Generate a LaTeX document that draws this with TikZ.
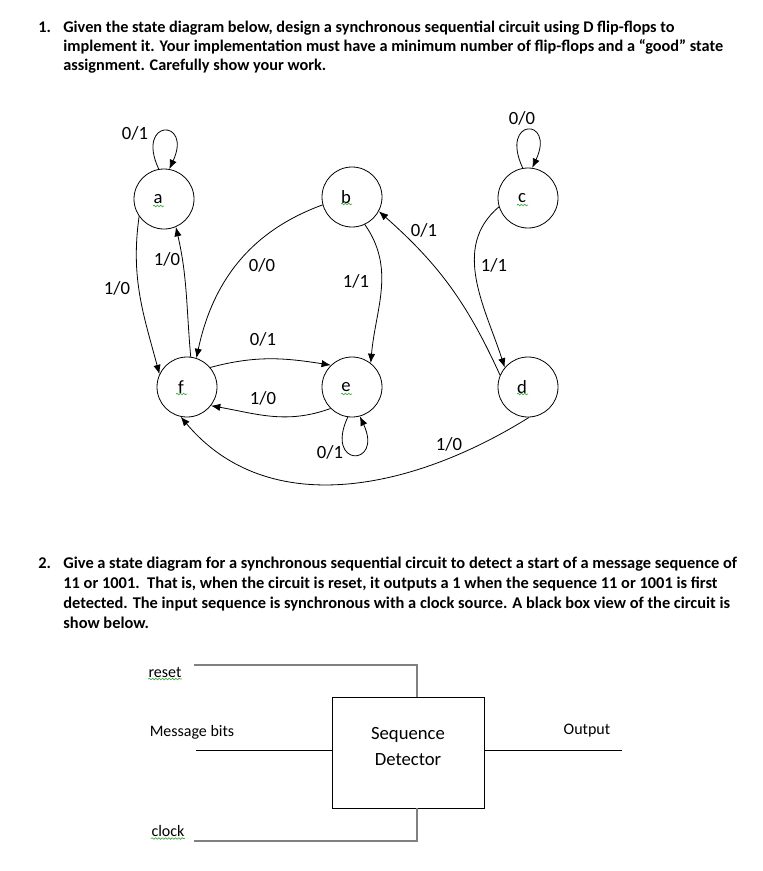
\documentclass[tikz,border=0pt]{standalone}
\usepackage{fontspec}
\setmainfont{Carlito}
\usetikzlibrary{positioning}
\usetikzlibrary{calc}
\usetikzlibrary{arrows.meta}
\usetikzlibrary{decorations.pathmorphing}
\definecolor{wiregray}{RGB}{128,128,128}
\definecolor{spellgreen}{RGB}{70,170,70}

\begin{document}
\begin{tikzpicture}[x=0.75pt,y=0.75pt,>={Latex[length=7pt,width=5.5pt]},line width=0.6pt]
	\tikzstyle{round} = [draw,circle,minimum size=45pt,inner sep=0pt,font=\fontsize{14pt}{16pt}\selectfont,execute at end node=\hspace{9pt}]
	\tikzstyle{lbl} = [font=\fontsize{14pt}{16pt}\selectfont,inner sep=0pt]
	\tikzstyle{prob} = [inner sep=0pt,anchor=base west]
	\tikzstyle{pin} = [font=\fontsize{12pt}{14pt}\selectfont,inner sep=0pt]
	\tikzstyle{squiggle} = [draw=spellgreen,line width=0.5pt,decorate,decoration={snake,amplitude=0.6pt,segment length=2.5pt}]
	\tikzstyle{wire} = [draw=wiregray,line width=1.1pt]

	\useasboundingbox (0,0) rectangle (763,-871);

	% questions
	\node[prob,font=\bfseries\fontsize{12.2pt}{14.6pt}\selectfont] (q1) at (38,-32) {\begin{tabular}[t]{@{}p{18.75pt}@{}l@{}}
		1. & Given the state diagram below, design a synchronous sequential circuit using D flip-flops to\\
		   & implement it. Your implementation must have a minimum number of flip-flops and a “good” state\\
		   & assignment. Carefully show your work.
	\end{tabular}};
	\node[prob,font=\bfseries\fontsize{12.3pt}{15pt}\selectfont] (q2) at (38,-568) {\begin{tabular}[t]{@{}p{18.75pt}@{}l@{}}
		2. & Give a state diagram for a synchronous sequential circuit to detect a start of a message sequence of\\
		   & 11 or 1001.\ \ That is, when the circuit is reset, it outputs a 1 when the sequence 11 or 1001 is first\\
		   & detected. The input sequence is synchronous with a clock source. A black box view of the circuit is\\
		   & show below.
	\end{tabular}};

	% states
	\node[round] at (164,-199) (a) {a};
	\node[round] at (352,-197) (b) {b};
	\node[round] at (528,-198) (c) {c};
	\node[round] at (187,-387) (f) {f};
	\node[round] at (352,-387) (e) {e};
	\node[round] at (528,-387) (d) {d};
	\foreach \s in {a,b,c,d,e,f}
		\draw[squiggle] ($(\s)+(-11,-7)$) -- ++(11,0);

	% transitions
	\draw[->] (a.100) .. controls +(115:56) and +(65:56) .. (a.80);
	\draw[->] (c.100) .. controls +(115:56) and +(65:56) .. (c.82);
	\draw[->] (e.262) .. controls +(245:56) and +(295:56) .. (e.285);
	\draw[->] (a.215) to[out=262,in=105] (f.155);
	\draw[->] (f.83) to[out=95,in=283] (a.293);
	\draw[->] (b.195) to[out=200,in=78] (f.72);
	\draw[->] (b.295) to[out=-55,in=85] (e.52);
	\draw[->] (d.157) to[bend right=12] (b.-28);
	\draw[->] (c.197) to[out=220,in=108] (d.140);
	\draw[->] (f.40) to[out=15,in=171] (e.134);
	\draw[->] (e.225) to[out=200,in=-10] (f.-38);
	\draw[->] (d.272) to[out=212,in=-50] (f.258);

	\node[lbl] (la) at (135,-133) {0/1};
	\node[lbl] (laf) at (117,-288) {1/0};
	\node[lbl] (lfa) at (167,-259) {1/0};
	\node[lbl] (lbf) at (262,-265) {0/0};
	\node[lbl] (lbe) at (356,-281) {1/1};
	\node[lbl] (ldb) at (424,-230) {0/1};
	\node[lbl] (lc) at (522,-118) {0/0};
	\node[lbl] (lcd) at (494,-265) {1/1};
	\node[lbl] (lfe) at (263,-339) {0/1};
	\node[lbl] (lef) at (263,-398) {1/0};
	\node[lbl] (le) at (330,-452) {0/1};
	\node[lbl] (ldf) at (449,-444) {1/0};

	% black box
	\node[draw,minimum width=114pt,minimum height=83.25pt] (det) at (408,-752.5) {};
	\node[align=center,font=\fontsize{14pt}{19.5pt}\selectfont,inner sep=0pt] (detlbl) at (408,-747) {Sequence\\Detector};
	\coordinate (rst) at (194,-665);
	\coordinate (clk) at (194,-841);
	\coordinate (msg) at (196,-750);
	\coordinate (outp) at (622,-750);
	\draw[wire] (rst) -| ($(det.north)+(9,0)$);
	\draw[wire] (clk) -| ($(det.south)+(9,0)$);
	\draw (msg) -- (msg -| det.west);
	\draw (det.east |- outp) -- (outp);

	\node[pin] (lrst) at (165,-672) {reset};
	\node[pin] (lmsg) at (192,-732) {Message bits};
	\node[pin] (lout) at (587,-731) {Output};
	\node[pin] (lclk) at (168,-831) {clock};
	\draw[squiggle] ($(lrst.south west)+(0,-1.5)$) -- ($(lrst.south east)+(0,-1.5)$);
	\draw[squiggle] ($(lclk.south west)+(0,-1.5)$) -- ($(lclk.south east)+(0,-1.5)$);
\end{tikzpicture}
\end{document}
